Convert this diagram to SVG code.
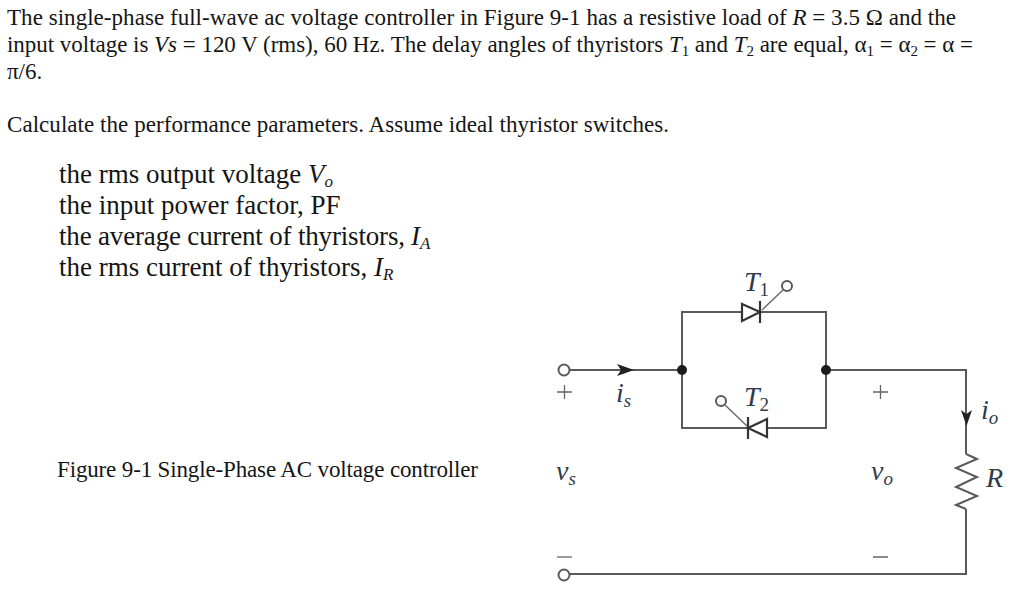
<svg xmlns="http://www.w3.org/2000/svg" width="1024" height="611" viewBox="0 0 1024 611">
<style>
text{font-family:"Liberation Serif","Times New Roman",serif;fill:#151515}
.b{font-size:23px}
.l{font-size:27px}
.i{font-style:italic}
.m{font-family:"Liberation Serif",serif;font-style:italic;fill:#2f3a4a;font-size:28px}
.u{font-size:19px}
.w{fill:none;stroke:#5a5a5a;stroke-width:2}
.s{fill:none;stroke:#333;stroke-width:2.200}
.o{fill:#fff;stroke:#5a5a5a;stroke-width:2}
.d{fill:#1c1c1c}
.p{stroke:#666;stroke-width:1.300;fill:none}
</style>
<rect width="1024" height="611" fill="#fff"/>
<g id="problem-text">
<text class="b" x="7" y="25" textLength="949">The single-phase full-wave ac voltage controller in Figure 9-1 has a resistive load of <tspan class="i">R</tspan> = 3.5 Ω and the</text>
<text class="b" x="7" y="52" textLength="966">input voltage is <tspan class="i">Vs</tspan> = 120 V (rms), 60 Hz. The delay angles of thyristors <tspan class="i">T</tspan><tspan font-size="15" dy="4">1</tspan><tspan dy="-4"> and </tspan><tspan class="i">T</tspan><tspan font-size="15" dy="4">2</tspan><tspan dy="-4"> are equal, α</tspan><tspan font-size="15" dy="4">1</tspan><tspan dy="-4"> = α</tspan><tspan font-size="15" dy="4">2</tspan><tspan dy="-4"> = α =</tspan></text>
<text class="b" x="7" y="79">π/6.</text>
<text class="b" x="7" y="132" textLength="662">Calculate the performance parameters. Assume ideal thyristor switches.</text>
</g>
<g id="parameter-list">
<text class="l" x="59" y="183">the rms output voltage <tspan class="i">V</tspan><tspan class="i" font-size="17" dy="4">o</tspan></text>
<text class="l" x="59" y="214">the input power factor, PF</text>
<text class="l" x="59" y="245"><tspan textLength="346">the average current of thyristors,</tspan><tspan class="i" x="411">I</tspan><tspan class="i" font-size="17" dy="4">A</tspan></text>
<text class="l" x="59" y="276">the rms current of thyristors, <tspan class="i">I</tspan><tspan class="i" font-size="17" dy="4">R</tspan></text>
</g>
<g id="caption"><text class="b" x="57" y="477" textLength="421">Figure 9-1 Single-Phase AC voltage controller</text></g>
<g id="connectors">
<path class="w" d="M570 370H682M682 370V312H742M760 312H826V428H767M748 428H682V370M826 370H966V454M966 509V574H570"/>
<path class="w" d="M966 454L977 459L956 468L977 477L956 487L977 496L956 505L966 509"/>
<path class="p" d="M762 310L783 290M747 426L725 405"/>
<path d="M617 364L634 370L617 376L621 370Z" fill="#222"/>
<path d="M961 410L966.500 426L972 410L966.500 414Z" fill="#222"/>
</g>
<g id="input-plus"><circle class="o" cx="564" cy="370" r="5.500"/><path class="p" d="M557 392H572M564.500 385V399"/></g>
<g id="input-minus"><circle class="o" cx="564" cy="575" r="5.500"/><path class="p" d="M557 557H572"/></g>
<g id="junction-left"><circle class="d" cx="682" cy="370" r="5"/></g>
<g id="junction-right"><circle class="d" cx="826" cy="370" r="5"/></g>
<g id="T1">
<path class="s" d="M742 304L760 312L742 321Z"/><path class="s" d="M760 301V323"/>
<circle class="o" cx="787" cy="286" r="5"/>
</g>
<g id="T2">
<path class="s" d="M767 419L748 428L767 437Z"/><path class="s" d="M748 417V439"/>
<circle class="o" cx="721" cy="401" r="5"/>
</g>
<g id="labels">
<text class="m" x="744" y="291">T<tspan class="u" dy="5" font-style="normal">1</tspan></text>
<text class="m" x="744" y="406">T<tspan class="u" dy="5" font-style="normal">2</tspan></text>
<text class="m" x="616" y="402">i<tspan class="u" dy="5">s</tspan></text>
<text class="m" x="556" y="480">v<tspan class="u" dy="5">s</tspan></text>
<text class="m" x="871" y="480">v<tspan class="u" dy="5">o</tspan></text>
<text class="m" x="981" y="419">i<tspan class="u" dy="5">o</tspan></text>
<text class="m" x="986" y="487">R</text>
<path class="p" d="M873 392H888M880.500 385V399M873 557H888"/>
</g>
</svg>
